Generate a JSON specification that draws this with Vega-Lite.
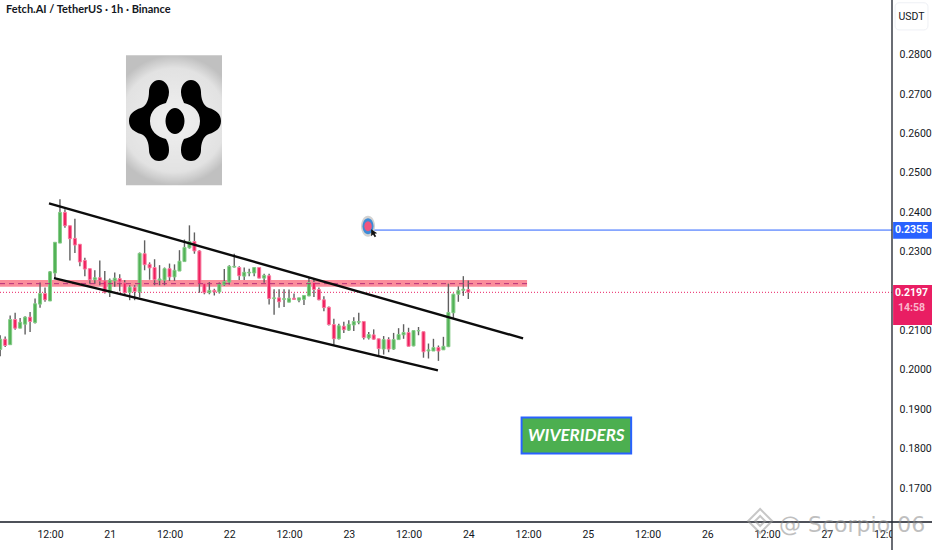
{"$schema":"https://vega.github.io/schema/vega-lite/v6.json","width":892,"height":522,"autosize":"none","padding":{"left":0,"top":0,"right":40,"bottom":28},"background":"#ffffff","title":{"text":"Fetch.AI / TetherUS · 1h · Binance","anchor":"start","frame":"group","dx":6,"dy":20,"font":"Lato","fontSize":11,"fontWeight":"bold","color":"#131722"},"resolve":{"axis":{"x":"independent","y":"independent"}},"config":{"view":{"stroke":null},"font":"Roboto","axis":{"grid":false,"ticks":false,"domain":false,"title":null,"labelFont":"Roboto","labelFontSize":10.5,"labelColor":"#131722"}},"datasets":{"candles":[{"t":2,"o":0.2052,"c":0.2078,"h":0.2088,"l":0.2035},{"t":3,"o":0.2078,"c":0.2062,"h":0.2085,"l":0.2058},{"t":4,"o":0.2064,"c":0.2128,"h":0.2138,"l":0.2064},{"t":5,"o":0.2128,"c":0.2106,"h":0.2145,"l":0.2102},{"t":6,"o":0.2106,"c":0.2121,"h":0.2132,"l":0.2106},{"t":7,"o":0.2116,"c":0.2134,"h":0.2136,"l":0.209},{"t":8,"o":0.2134,"c":0.2123,"h":0.2147,"l":0.2096},{"t":9,"o":0.212,"c":0.2168,"h":0.2181,"l":0.2118},{"t":10,"o":0.2167,"c":0.2194,"h":0.2222,"l":0.2158},{"t":11,"o":0.2194,"c":0.2178,"h":0.2209,"l":0.2173},{"t":12,"o":0.2175,"c":0.2249,"h":0.2251,"l":0.2175},{"t":13,"o":0.2246,"c":0.2324,"h":0.2324,"l":0.2232},{"t":14,"o":0.2322,"c":0.24,"h":0.2433,"l":0.2322},{"t":15,"o":0.24,"c":0.2366,"h":0.2408,"l":0.2361},{"t":16,"o":0.2366,"c":0.2333,"h":0.2366,"l":0.2278},{"t":17,"o":0.2334,"c":0.2317,"h":0.2384,"l":0.2297},{"t":18,"o":0.2319,"c":0.2274,"h":0.2319,"l":0.2263},{"t":19,"o":0.2278,"c":0.2256,"h":0.2285,"l":0.2238},{"t":20,"o":0.2257,"c":0.2229,"h":0.2257,"l":0.2219},{"t":21,"o":0.2229,"c":0.2234,"h":0.2253,"l":0.2219},{"t":22,"o":0.2234,"c":0.2226,"h":0.2278,"l":0.2215},{"t":23,"o":0.2226,"c":0.2197,"h":0.2251,"l":0.2194},{"t":24,"o":0.2196,"c":0.2228,"h":0.2232,"l":0.2185},{"t":25,"o":0.2226,"c":0.2233,"h":0.2247,"l":0.2211},{"t":26,"o":0.2232,"c":0.2223,"h":0.2243,"l":0.22},{"t":27,"o":0.2221,"c":0.2196,"h":0.2228,"l":0.219},{"t":28,"o":0.2197,"c":0.221,"h":0.2215,"l":0.2177},{"t":29,"o":0.221,"c":0.2199,"h":0.2215,"l":0.2177},{"t":30,"o":0.2198,"c":0.2296,"h":0.2298,"l":0.2184},{"t":31,"o":0.2295,"c":0.2267,"h":0.2329,"l":0.2253},{"t":32,"o":0.2268,"c":0.2259,"h":0.2273,"l":0.2229},{"t":33,"o":0.226,"c":0.2229,"h":0.2281,"l":0.2215},{"t":34,"o":0.2228,"c":0.2231,"h":0.2266,"l":0.2215},{"t":35,"o":0.2228,"c":0.2257,"h":0.226,"l":0.2215},{"t":36,"o":0.2257,"c":0.2236,"h":0.227,"l":0.2226},{"t":37,"o":0.2236,"c":0.2253,"h":0.2268,"l":0.2226},{"t":38,"o":0.2251,"c":0.2276,"h":0.2304,"l":0.2251},{"t":39,"o":0.2275,"c":0.2311,"h":0.2331,"l":0.2275},{"t":40,"o":0.231,"c":0.2326,"h":0.2367,"l":0.2308},{"t":41,"o":0.2326,"c":0.2302,"h":0.2349,"l":0.2295},{"t":42,"o":0.2302,"c":0.2219,"h":0.2304,"l":0.2196},{"t":43,"o":0.2219,"c":0.2196,"h":0.2219,"l":0.2192},{"t":44,"o":0.2196,"c":0.2202,"h":0.2223,"l":0.2192},{"t":45,"o":0.2202,"c":0.2198,"h":0.2206,"l":0.2189},{"t":46,"o":0.2198,"c":0.2218,"h":0.2222,"l":0.2194},{"t":47,"o":0.2216,"c":0.2224,"h":0.2256,"l":0.2213},{"t":48,"o":0.2223,"c":0.2263,"h":0.2266,"l":0.2217},{"t":49,"o":0.2261,"c":0.2263,"h":0.2295,"l":0.226},{"t":50,"o":0.226,"c":0.2239,"h":0.2263,"l":0.2228},{"t":51,"o":0.2238,"c":0.2248,"h":0.226,"l":0.2228},{"t":52,"o":0.2246,"c":0.2248,"h":0.2257,"l":0.2238},{"t":53,"o":0.2246,"c":0.226,"h":0.2261,"l":0.2238},{"t":54,"o":0.226,"c":0.2233,"h":0.226,"l":0.2233},{"t":55,"o":0.2233,"c":0.224,"h":0.2244,"l":0.2221},{"t":56,"o":0.2239,"c":0.2181,"h":0.2244,"l":0.2166},{"t":57,"o":0.2181,"c":0.2183,"h":0.2205,"l":0.214},{"t":58,"o":0.2183,"c":0.2173,"h":0.2205,"l":0.2158},{"t":59,"o":0.2179,"c":0.2181,"h":0.2205,"l":0.216},{"t":60,"o":0.2172,"c":0.2182,"h":0.2204,"l":0.2172},{"t":61,"o":0.2182,"c":0.2179,"h":0.2194,"l":0.2178},{"t":62,"o":0.2177,"c":0.2183,"h":0.2183,"l":0.2172},{"t":63,"o":0.2179,"c":0.2189,"h":0.2189,"l":0.2165},{"t":64,"o":0.2188,"c":0.2222,"h":0.2236,"l":0.2187},{"t":65,"o":0.2222,"c":0.2204,"h":0.2232,"l":0.2185},{"t":66,"o":0.2204,"c":0.2178,"h":0.2209,"l":0.2177},{"t":67,"o":0.2178,"c":0.2158,"h":0.2187,"l":0.2149},{"t":68,"o":0.2159,"c":0.2115,"h":0.2161,"l":0.2113},{"t":69,"o":0.2115,"c":0.2079,"h":0.213,"l":0.2064},{"t":70,"o":0.2079,"c":0.2112,"h":0.2117,"l":0.2077},{"t":71,"o":0.2111,"c":0.2102,"h":0.2122,"l":0.2094},{"t":72,"o":0.2101,"c":0.2116,"h":0.2126,"l":0.2099},{"t":73,"o":0.2114,"c":0.2123,"h":0.2134,"l":0.2099},{"t":74,"o":0.2121,"c":0.2123,"h":0.2145,"l":0.2116},{"t":75,"o":0.2123,"c":0.2082,"h":0.2123,"l":0.2077},{"t":76,"o":0.2081,"c":0.209,"h":0.2096,"l":0.2077},{"t":77,"o":0.2089,"c":0.2078,"h":0.2103,"l":0.2077},{"t":78,"o":0.2079,"c":0.2054,"h":0.2079,"l":0.2033},{"t":79,"o":0.2053,"c":0.2077,"h":0.2086,"l":0.2039},{"t":80,"o":0.2077,"c":0.2053,"h":0.2083,"l":0.2045},{"t":81,"o":0.2053,"c":0.2077,"h":0.2094,"l":0.2051},{"t":82,"o":0.2077,"c":0.209,"h":0.2106,"l":0.2077},{"t":83,"o":0.2089,"c":0.2095,"h":0.2116,"l":0.2079},{"t":84,"o":0.2095,"c":0.206,"h":0.2107,"l":0.206},{"t":85,"o":0.2061,"c":0.21,"h":0.21,"l":0.206},{"t":86,"o":0.2099,"c":0.21,"h":0.2109,"l":0.2088},{"t":87,"o":0.2097,"c":0.2046,"h":0.2097,"l":0.2031},{"t":88,"o":0.2048,"c":0.2051,"h":0.2067,"l":0.2029},{"t":89,"o":0.2048,"c":0.2057,"h":0.2079,"l":0.2048},{"t":90,"o":0.2057,"c":0.2048,"h":0.2062,"l":0.2023},{"t":91,"o":0.2051,"c":0.206,"h":0.2084,"l":0.2051},{"t":92,"o":0.2059,"c":0.2146,"h":0.2219,"l":0.2058},{"t":93,"o":0.2145,"c":0.2192,"h":0.2194,"l":0.213},{"t":94,"o":0.2192,"c":0.2202,"h":0.2212,"l":0.2173},{"t":95,"o":0.2202,"c":0.2205,"h":0.2238,"l":0.2188},{"t":96,"o":0.2204,"c":0.2197,"h":0.2227,"l":0.218}]},"layer":[{"data":{"values":[{"t":1.96,"p":0.2939,"t2":181.08,"p2":0.1614}]},"mark":{"type":"rect","fill":"#ffffff","opacity":0},"encoding":{"x":{"field":"t","type":"quantitative","scale":{"domain":[1.96,181.08],"nice":false,"zero":false,"padding":0},"axis":{"orient":"bottom","values":[12,24,36,48,60,72,84,96,108,120,132,144,156,168,180],"labelExpr":"datum.value%24==0 ? toString(20+datum.value/24) : '12:00'","labelOverlap":false,"labelPadding":7,"labelFlush":false}},"x2":{"field":"t2"},"y":{"field":"p","type":"quantitative","scale":{"domain":[0.1614,0.2939],"nice":false,"zero":false,"padding":0},"axis":{"orient":"right","values":[0.17,0.18,0.19,0.2,0.21,0.23,0.24,0.25,0.26,0.27,0.28],"format":".4f","labelPadding":7,"labelOverlap":false,"labelFlush":false}},"y2":{"field":"p2"}}},{"data":{"values":[{"t":27.26,"t2":46.54,"p":0.2799,"p2":0.2469}]},"mark":{"type":"rect","color":{"gradient":"radial","stops":[{"offset":0,"color":"#f0f0f0"},{"offset":0.8,"color":"#e2e2e2"},{"offset":1,"color":"#c0c0c0"}]}},"encoding":{"x":{"field":"t","type":"quantitative","axis":null},"x2":{"field":"t2"},"y":{"field":"p","type":"quantitative","axis":null},"y2":{"field":"p2"}}},{"data":{"values":[{"t":37.1,"p":0.2632}]},"mark":{"type":"point","filled":true,"opacity":1,"size":4,"color":"#000000","shape":"M-16 -41C-10 -41 -6 -35 -6 -29C-6 -24 -8 -21 -9 -18C-18 -16 -25 -10 -25 0C-25 10 -18 16 -9 18C-7 21 -6 25 -6 29C-6 36 -10 40 -16 40C-22 40 -26 35 -26 29C-26 23 -28 15 -34 13C-41 11 -46 7 -46 0C-46 -7 -41 -11 -34 -13C-28 -15 -26 -23 -26 -29C-26 -35 -22 -41 -16 -41ZM16 -41C10 -41 6 -35 6 -29C6 -24 8 -21 9 -18C18 -16 25 -10 25 0C25 10 18 16 9 18C7 21 6 25 6 29C6 36 10 40 16 40C22 40 26 35 26 29C26 23 28 15 34 13C41 11 46 7 46 0C46 -7 41 -11 34 -13C28 -15 26 -23 26 -29C26 -35 22 -41 16 -41ZM-9.5 0C-9.5 -7 -5 -13 0 -13C5 -13 9.5 -7 9.5 0C9.5 7 5 13 0 13C-5 13 -9.5 7 -9.5 0Z"},"encoding":{"x":{"field":"t","type":"quantitative","axis":null},"y":{"field":"p","type":"quantitative","axis":null}}},{"data":{"values":[{"t":1.96,"t2":107.8,"p":0.2228,"p2":0.2211}]},"mark":{"type":"rect","color":"#fb8d9b"},"encoding":{"x":{"field":"t","type":"quantitative","axis":null},"x2":{"field":"t2"},"y":{"field":"p","type":"quantitative","axis":null},"y2":{"field":"p2"}}},{"data":{"values":[{"t":1.96,"t2":181.08,"p":0.2197}]},"mark":{"type":"rule","color":"#e91e63","strokeWidth":1,"strokeDash":[1,2]},"encoding":{"x":{"field":"t","type":"quantitative","axis":null},"x2":{"field":"t2"},"y":{"field":"p","type":"quantitative","axis":null}}},{"data":{"name":"candles"},"mark":{"type":"rule","color":"#606060","strokeWidth":1.4},"encoding":{"x":{"field":"t","type":"quantitative","axis":null},"y":{"field":"l","type":"quantitative","axis":null},"y2":{"field":"h"}}},{"data":{"name":"candles"},"mark":{"type":"bar","size":3,"strokeWidth":1},"encoding":{"x":{"field":"t","type":"quantitative","axis":null},"y":{"field":"o","type":"quantitative","axis":null},"y2":{"field":"c"},"fill":{"condition":{"test":"datum.c>=datum.o","value":"#52b256"},"value":"#f0205f"},"stroke":{"condition":{"test":"datum.c>=datum.o","value":"#85cb88"},"value":"#f77b9f"}}},{"data":{"values":[{"t":1.96,"t2":107.8,"p":0.2219}]},"mark":{"type":"rule","color":"#b5307a","strokeWidth":1,"strokeDash":[5,4]},"encoding":{"x":{"field":"t","type":"quantitative","axis":null},"x2":{"field":"t2"},"y":{"field":"p","type":"quantitative","axis":null}}},{"data":{"values":[{"t":11.8,"p":0.2423,"s":"a"},{"t":107,"p":0.208,"s":"a"},{"t":12.8,"p":0.2233,"s":"b"},{"t":89.9,"p":0.1999,"s":"b"}]},"mark":{"type":"line","color":"#0c0c0c","strokeWidth":2.4},"encoding":{"x":{"field":"t","type":"quantitative","axis":null},"y":{"field":"p","type":"quantitative","axis":null},"detail":{"field":"s"}}},{"data":{"values":[{"t":76,"t2":181.08,"p":0.2355}]},"mark":{"type":"rule","color":"#2962ff","strokeWidth":1},"encoding":{"x":{"field":"t","type":"quantitative","axis":null},"x2":{"field":"t2"},"y":{"field":"p","type":"quantitative","axis":null}}},{"data":{"values":[{"t":75.86,"p":0.2365}]},"mark":{"type":"point","filled":true,"opacity":1,"size":4,"color":"#d2d2d2","shape":"M-7 0C-7 -5.8 -3.9 -10.5 0 -10.5C3.9 -10.5 7 -5.8 7 0C7 5.8 3.9 10.5 0 10.5C-3.9 10.5 -7 5.8 -7 0Z"},"encoding":{"x":{"field":"t","type":"quantitative","axis":null},"y":{"field":"p","type":"quantitative","axis":null}}},{"data":{"values":[{"t":75.86,"p":0.2365}]},"mark":{"type":"point","filled":true,"opacity":1,"size":4,"color":"#3f8bd6","shape":"M-5.5 0C-5.5 -4.4 -3 -8 0 -8C3 -8 5.5 -4.4 5.5 0C5.5 4.4 3 8 0 8C-3 8 -5.5 4.4 -5.5 0Z"},"encoding":{"x":{"field":"t","type":"quantitative","axis":null},"y":{"field":"p","type":"quantitative","axis":null}}},{"data":{"values":[{"t":75.86,"p":0.2365}]},"mark":{"type":"point","filled":true,"opacity":1,"size":4,"color":"#f2557f","shape":"M-3.7 0C-3.7 -2.8 -2 -5 0 -5C2 -5 3.7 -2.8 3.7 0C3.7 2.8 2 5 0 5C-2 5 -3.7 2.8 -3.7 0Z"},"encoding":{"x":{"field":"t","type":"quantitative","axis":null},"y":{"field":"p","type":"quantitative","axis":null}}},{"data":{"values":[{"t":76.5,"p":0.2357}]},"mark":{"type":"point","filled":true,"opacity":1,"size":4,"color":"#111111","shape":"M0 0L0 7L1.8 5.2L3.5 8L5 7L3.4 4.4L6 4Z"},"encoding":{"x":{"field":"t","type":"quantitative","axis":null},"y":{"field":"p","type":"quantitative","axis":null}}},{"data":{"values":[{"t":106.7,"t2":128.7,"p":0.18795,"p2":0.1788}]},"mark":{"type":"rect","color":"#4caf50","stroke":"#2962ff","strokeWidth":2},"encoding":{"x":{"field":"t","type":"quantitative","axis":null},"x2":{"field":"t2"},"y":{"field":"p","type":"quantitative","axis":null},"y2":{"field":"p2"}}},{"data":{"values":[{"t":117.7,"p":0.18335,"label":"WIVERIDERS"}]},"mark":{"type":"text","color":"#ffffff","font":"Lato","fontWeight":"bold","fontStyle":"italic","fontSize":17,"align":"center","baseline":"middle"},"encoding":{"x":{"field":"t","type":"quantitative","axis":null},"y":{"field":"p","type":"quantitative","axis":null},"text":{"field":"label"}}},{"data":{"values":[{"t":181.08,"t2":189.2,"p":0.1614,"p2":0.154}]},"mark":{"type":"rect","color":"#ffffff"},"encoding":{"x":{"field":"t","type":"quantitative","axis":null},"x2":{"field":"t2"},"y":{"field":"p","type":"quantitative","axis":null},"y2":{"field":"p2"}}},{"data":{"values":[{"t":1.96,"t2":189.2,"p":0.1614}]},"mark":{"type":"rule","color":"#131722","strokeWidth":1.4},"encoding":{"x":{"field":"t","type":"quantitative","axis":null},"x2":{"field":"t2"},"y":{"field":"p","type":"quantitative","axis":null}}},{"data":{"values":[{"t":181.08,"p":0.2939,"p2":0.154}]},"mark":{"type":"rule","color":"#2a2e39","strokeWidth":1.4},"encoding":{"x":{"field":"t","type":"quantitative","axis":null},"y":{"field":"p","type":"quantitative","axis":null},"y2":{"field":"p2"}}},{"data":{"values":[{"t":181.7,"t2":188.3,"p":0.2932,"p2":0.2863}]},"mark":{"type":"rect","fill":"#ffffff","stroke":"#eef0f5","strokeWidth":1,"cornerRadius":4},"encoding":{"x":{"field":"t","type":"quantitative","axis":null},"x2":{"field":"t2"},"y":{"field":"p","type":"quantitative","axis":null},"y2":{"field":"p2"}}},{"data":{"values":[{"t":185,"p":0.2897,"label":"USDT"}]},"mark":{"type":"text","color":"#131722","fontSize":10.5,"align":"center","baseline":"middle"},"encoding":{"x":{"field":"t","type":"quantitative","axis":null},"y":{"field":"p","type":"quantitative","axis":null},"text":{"field":"label"}}},{"data":{"values":[{"t":181.3,"t2":189.2,"p":0.23755,"p2":0.23331,"c":"#2962ff"},{"t":181.3,"t2":189.2,"p":0.22156,"p2":0.2114,"c":"#e91e63"}]},"mark":{"type":"rect"},"encoding":{"x":{"field":"t","type":"quantitative","axis":null},"x2":{"field":"t2"},"y":{"field":"p","type":"quantitative","axis":null},"y2":{"field":"p2"},"color":{"field":"c","type":"nominal","scale":null}}},{"data":{"values":[{"t":185,"p":0.2355,"label":"0.2355","c":"#ffffff"},{"t":185,"p":0.2195,"label":"0.2197","c":"#ffffff"},{"t":185,"p":0.2157,"label":"14:58","c":"#fbb6cc"}]},"mark":{"type":"text","fontSize":10.5,"fontWeight":"bold","align":"center","baseline":"middle"},"encoding":{"x":{"field":"t","type":"quantitative","axis":null},"y":{"field":"p","type":"quantitative","axis":null},"text":{"field":"label"},"color":{"field":"c","type":"nominal","scale":null}}},{"data":{"values":[{"t":154.6,"p":0.16165}]},"mark":{"type":"point","filled":false,"opacity":0.55,"size":4,"stroke":"#9a9a9a","strokeWidth":2,"shape":"M0 -12L12 0L0 12L-12 0ZM0 -5L5 0L0 5L-5 0Z"},"encoding":{"x":{"field":"t","type":"quantitative","axis":null},"y":{"field":"p","type":"quantitative","axis":null}}},{"data":{"values":[{"t":158.4,"p":0.1606,"label":"@ Scorpio 06"}]},"mark":{"type":"text","color":"#8c8c8c","opacity":0.55,"font":"DejaVu Sans","fontSize":22,"align":"left","baseline":"middle"},"encoding":{"x":{"field":"t","type":"quantitative","axis":null},"y":{"field":"p","type":"quantitative","axis":null},"text":{"field":"label"}}}]}
